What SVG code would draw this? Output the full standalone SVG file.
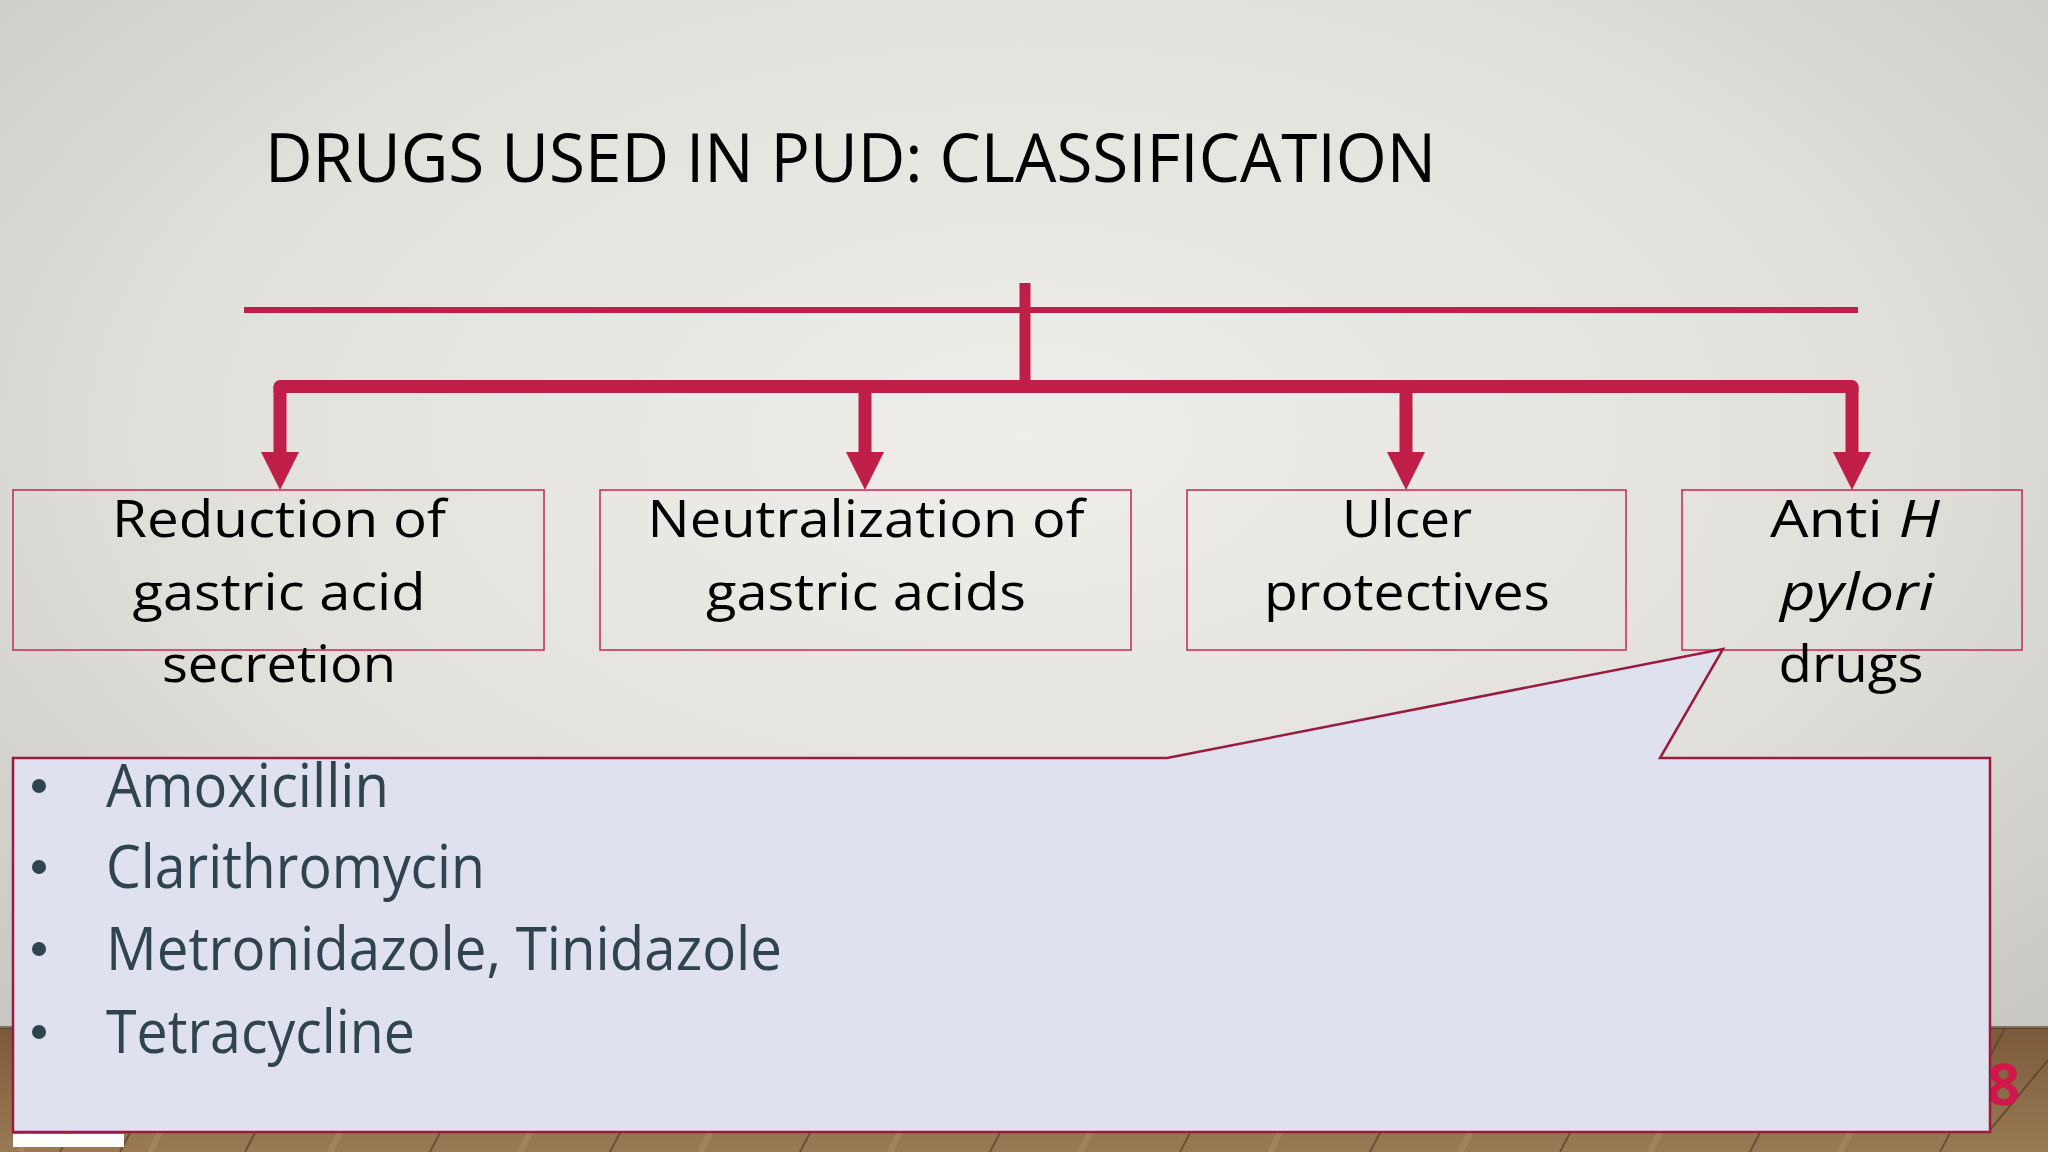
<svg xmlns="http://www.w3.org/2000/svg" width="2048" height="1152" viewBox="0 0 2048 1152">
  <defs>
    <radialGradient id="wall" cx="50%" cy="38%" r="75%">
      <stop offset="0" stop-color="#f0eeea"/>
      <stop offset="0.55" stop-color="#e2e0db"/>
      <stop offset="1" stop-color="#c6c4c0"/>
    </radialGradient>
    <linearGradient id="floor" x1="0" y1="0" x2="0" y2="1">
      <stop offset="0" stop-color="#7a5a3a"/>
      <stop offset="1" stop-color="#9a7a55"/>
    </linearGradient>
    <marker id="ah" markerUnits="userSpaceOnUse" markerWidth="40" markerHeight="40" viewBox="0 -20 40 40" refX="0" refY="0" orient="auto">
      <path d="M0,-19 L38,0 L0,19 Z" fill="#be1e47"/>
    </marker>
    <style>
      .box { fill: none; stroke: #c8325a; stroke-width: 1.6; }
      .lbl { font-family: "Open Sans", "Noto Sans", "Liberation Sans", sans-serif; font-size: 52px; fill: #000; text-anchor: middle; }
      .bul { font-family: "Open Sans", "Noto Sans", "Liberation Sans", sans-serif; font-size: 60px; fill: #2f444e; }
      .dot { fill: #2f444e; }
      .con { fill: none; stroke: #be1e47; }
      .plank { stroke: #5a3f26; stroke-width: 2; opacity: 0.7; }
      .grain { stroke: #b8996f; stroke-width: 6; opacity: 0.35; }
    </style>
  </defs>

  <!-- background -->
  <rect x="0" y="0" width="2048" height="1152" fill="url(#wall)"/>
  <rect x="0" y="1028" width="2048" height="124" fill="url(#floor)"/>
  <g>
    <line class="grain" x1="20" y1="1152" x2="80" y2="1028"/>
    <line class="grain" x1="150" y1="1152" x2="215" y2="1028"/>
    <line class="grain" x1="330" y1="1152" x2="395" y2="1028"/>
    <line class="grain" x1="520" y1="1152" x2="585" y2="1028"/>
    <line class="grain" x1="700" y1="1152" x2="765" y2="1028"/>
    <line class="grain" x1="890" y1="1152" x2="955" y2="1028"/>
    <line class="grain" x1="1080" y1="1152" x2="1145" y2="1028"/>
    <line class="grain" x1="1270" y1="1152" x2="1335" y2="1028"/>
    <line class="grain" x1="1460" y1="1152" x2="1525" y2="1028"/>
    <line class="grain" x1="1650" y1="1152" x2="1715" y2="1028"/>
    <line class="grain" x1="1840" y1="1152" x2="1905" y2="1028"/>
    <line class="plank" x1="60" y1="1152" x2="125" y2="1028"/>
    <line class="plank" x1="120" y1="1152" x2="185" y2="1028"/>
    <line class="plank" x1="245" y1="1152" x2="310" y2="1028"/>
    <line class="plank" x1="430" y1="1152" x2="495" y2="1028"/>
    <line class="plank" x1="610" y1="1152" x2="675" y2="1028"/>
    <line class="plank" x1="800" y1="1152" x2="865" y2="1028"/>
    <line class="plank" x1="990" y1="1152" x2="1055" y2="1028"/>
    <line class="plank" x1="1180" y1="1152" x2="1245" y2="1028"/>
    <line class="plank" x1="1370" y1="1152" x2="1435" y2="1028"/>
    <line class="plank" x1="1560" y1="1152" x2="1625" y2="1028"/>
    <line class="plank" x1="1750" y1="1152" x2="1815" y2="1028"/>
    <line class="plank" x1="1940" y1="1152" x2="2005" y2="1028"/>
    <line class="plank" x1="1990" y1="1130" x2="2048" y2="1060"/>
  </g>
  <rect x="0" y="1026" width="2048" height="3" fill="#4a3520" opacity="0.6"/>

  <!-- title -->
  <g id="title">
    <text x="265" y="182" font-family="'Open Sans', 'Noto Sans', 'Liberation Sans', sans-serif" font-size="68" fill="#000" textLength="1171" lengthAdjust="spacingAndGlyphs">DRUGS USED IN PUD: CLASSIFICATION</text>
  </g>

  <!-- connectors -->
  <g id="connectors">
    <path class="con" d="M244,310 H1858" stroke-width="6"/>
    <path class="con" d="M1025,283 V386" stroke-width="11"/>
    <path class="con" d="M280,393 V386.5 H1852 V393" stroke-width="13" stroke-linejoin="round"/>
    <path class="con" d="M280,386 V452" stroke-width="13" marker-end="url(#ah)"/>
    <path class="con" d="M865,386 V452" stroke-width="13" marker-end="url(#ah)"/>
    <path class="con" d="M1406,386 V452" stroke-width="13" marker-end="url(#ah)"/>
    <path class="con" d="M1852,386 V452" stroke-width="13" marker-end="url(#ah)"/>
  </g>

  <!-- nodes -->
  <g id="node-reduction">
    <rect class="box" x="13" y="490" width="531" height="160"/>
    <text class="lbl" x="279" y="537" textLength="334" lengthAdjust="spacingAndGlyphs">Reduction of</text>
    <text class="lbl" x="279" y="610" textLength="293" lengthAdjust="spacingAndGlyphs">gastric acid</text>
    <text class="lbl" x="279" y="682" textLength="234" lengthAdjust="spacingAndGlyphs">secretion</text>
  </g>
  <g id="node-neutralization">
    <rect class="box" x="600" y="490" width="531" height="160"/>
    <text class="lbl" x="866" y="537" textLength="437" lengthAdjust="spacingAndGlyphs">Neutralization of</text>
    <text class="lbl" x="866" y="610" textLength="320" lengthAdjust="spacingAndGlyphs">gastric acids</text>
  </g>
  <g id="node-ulcer">
    <rect class="box" x="1187" y="490" width="439" height="160"/>
    <text class="lbl" x="1407" y="537" textLength="130" lengthAdjust="spacingAndGlyphs">Ulcer</text>
    <text class="lbl" x="1407" y="610" textLength="286" lengthAdjust="spacingAndGlyphs">protectives</text>
  </g>
  <g id="node-hpylori">
    <rect class="box" x="1682" y="490" width="340" height="160"/>
    <text class="lbl" x="1855" y="537" textLength="170" lengthAdjust="spacingAndGlyphs">Anti <tspan font-style="italic">H</tspan></text>
    <text class="lbl" x="1857" y="610" font-style="italic" textLength="154" lengthAdjust="spacingAndGlyphs">pylori</text>
    <text class="lbl" x="1851" y="682" textLength="145" lengthAdjust="spacingAndGlyphs">drugs</text>
  </g>

  <!-- page number -->
  <text x="1987" y="1105" font-family="'Open Sans', 'Noto Sans', sans-serif" font-size="58" font-weight="bold" fill="#d0164a">8</text>

  <!-- callout -->
  <g id="callout">
    <path d="M13,758 H1167 L1723,649 L1660,758 H1990 V1132 H13 Z" fill="#dfe2ee" stroke="#9a1b40" stroke-width="2.5" stroke-linejoin="miter"/>
    <circle class="dot" cx="39" cy="786" r="7"/>
    <circle class="dot" cx="39" cy="867" r="7"/>
    <circle class="dot" cx="39" cy="949" r="7"/>
    <circle class="dot" cx="39" cy="1032" r="7"/>
    <text class="bul" x="106" y="807" textLength="283" lengthAdjust="spacingAndGlyphs">Amoxicillin</text>
    <text class="bul" x="106" y="888" textLength="379" lengthAdjust="spacingAndGlyphs">Clarithromycin</text>
    <text class="bul" x="106" y="970" textLength="676" lengthAdjust="spacingAndGlyphs">Metronidazole, Tinidazole</text>
    <text class="bul" x="106" y="1053" textLength="309" lengthAdjust="spacingAndGlyphs">Tetracycline</text>
  </g>

  <rect x="13" y="1134" width="111" height="13" fill="#ffffff"/>
</svg>
